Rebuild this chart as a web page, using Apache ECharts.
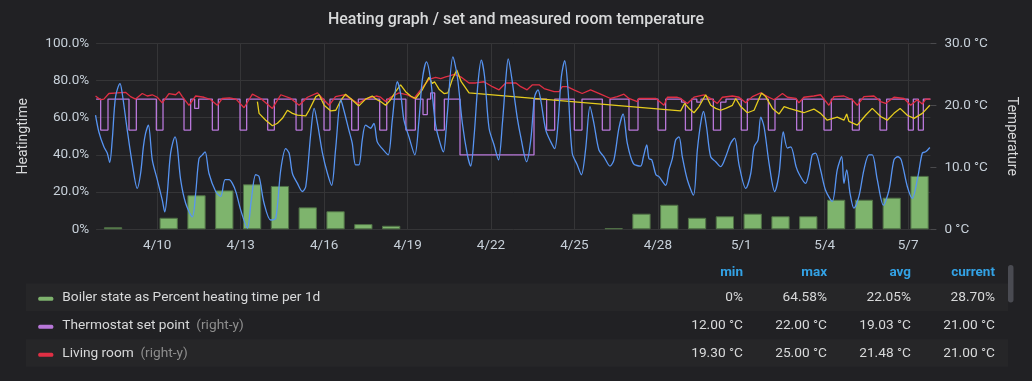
<!DOCTYPE html>
<html><head><meta charset="utf-8">
<script src="https://cdn.jsdelivr.net/npm/echarts@6/dist/echarts.min.js"></script>
<style>html,body{margin:0;padding:0;background:#212124;}#c{width:1032px;height:381px;}</style>
</head><body><div id="c"></div>
<script>
// x values are "day of April" (May 1 = 31)
const xMin = 7.8, xMax = 37.8;
const xTickDays = [10,13,16,19,22,25,28,31,34,37];
const xTickLabels = ['4/10','4/13','4/16','4/19','4/22','4/25','4/28','5/1','5/4','5/7'];

// Boiler: percent heating time per day
const boilerDays = [8,9,10,11,12,13,14,15,16,17,18,19,20,21,22,23,24,25,26,27,28,29,30,31,32,33,34,35,36,37];
const boilerPct  = [1.1,0,6.2,18.3,20.9,24.2,23.3,11.8,9.7,2.8,1.9,0,0,0,0,0,0,0,0.7,8.4,13.2,6.2,7.0,8.4,7.0,7.0,15.9,15.9,17.0,28.7];
const bucketCentre = 0.41; // bars drawn centred at ~10:00 of each day bucket

// Thermostat set point (°C), step series
const setPoint = [[7.8,21],[7.964,16],[8.228,21],[8.983,16],[9.247,21],[9.966,16],[10.206,21],[10.961,16],[11.2,21],[11.344,19.5],[11.488,21],[11.98,16],[12.195,21],[12.975,16],[13.214,21],[13.97,16],[14.21,21],[14.99,16],[15.204,21],[15.995,16],[16.21,21],[16.99,16],[17.23,21],[17.997,16],[18.25,21],[18.94,16],[19.28,21],[19.555,18.5],[19.71,21],[19.83,22],[19.975,16],[20.322,21],[20.885,12],[23.546,21],[24.0,16],[24.289,21],[24.997,16],[25.272,21],[26.003,16],[26.279,21],[26.962,16],[27.286,21],[28.005,16],[28.28,21],[28.85,20.5],[28.99,16],[29.215,21],[29.4,20.5],[29.55,21],[29.995,16],[30.258,20.5],[30.45,21],[31.0,16],[31.217,21],[31.972,16],[32.212,21],[32.99,16],[33.195,21],[33.974,16],[34.237,21],[34.993,16],[35.244,21],[35.987,16],[36.227,21],[37.006,16],[37.186,21],[37.366,16],[37.546,21],[37.8,21]];

// Living room (°C)
const livingRoom = [[7.78,21.5],[7.96,20.9],[8.08,21.0],[8.26,21.9],[8.56,22.0],[8.86,22.1],[9.04,21.4],[9.22,21.0],[9.46,21.9],[9.64,21.5],[9.82,21.7],[10.0,21.3],[10.18,20.4],[10.42,21.9],[10.66,21.7],[10.78,22.2],[10.9,21.4],[11.14,20.0],[11.38,21.5],[11.68,21.3],[11.92,20.9],[12.16,20.0],[12.34,21.1],[12.6,21.2],[12.83,21.0],[13.12,19.6],[13.42,21.8],[13.72,21.1],[14.14,19.5],[14.44,21.7],[14.8,21.1],[15.1,20.0],[15.4,21.3],[15.76,22.0],[15.94,21.1],[16.18,20.0],[16.41,21.4],[16.71,21.7],[16.95,21.1],[17.22,20.3],[17.49,21.0],[17.87,21.5],[18.03,21.3],[18.21,20.6],[18.39,21.3],[18.69,22.0],[18.99,21.7],[19.23,21.1],[19.47,22.5],[19.77,24.2],[20.01,24.5],[20.19,24.3],[20.37,24.6],[20.55,24.8],[20.67,25.0],[20.91,24.6],[21.21,23.6],[21.45,23.6],[21.75,23.8],[22.05,23.0],[22.29,22.5],[22.53,23.6],[22.9,23.6],[23.07,23.0],[23.3,22.5],[23.49,23.3],[23.73,23.3],[23.91,22.7],[24.27,22.2],[24.45,22.2],[24.56,23.0],[24.74,23.0],[24.98,22.5],[25.28,21.9],[25.58,22.5],[25.94,21.8],[26.3,21.1],[26.54,21.4],[26.78,21.8],[26.96,21.1],[27.26,20.6],[27.32,21.1],[27.93,21.1],[28.22,20.0],[28.34,21.3],[28.7,21.3],[28.82,21.1],[29.06,20.3],[29.3,21.3],[29.66,21.7],[29.9,21.1],[30.14,20.3],[30.32,21.3],[30.68,21.5],[30.92,21.3],[31.16,20.4],[31.4,21.4],[31.7,22.0],[31.94,21.4],[32.18,20.9],[32.48,21.9],[32.66,21.3],[32.97,21.1],[33.07,20.4],[33.25,21.3],[33.61,21.5],[33.85,21.7],[34.15,20.0],[34.33,21.4],[34.69,21.5],[34.99,20.9],[35.17,20.0],[35.41,21.4],[35.77,21.5],[36.01,20.6],[36.19,20.3],[36.49,21.3],[36.85,21.1],[37.09,20.0],[37.33,20.9],[37.51,20.2],[37.63,21.0],[37.8,21.0]];

// Second room (°C), yellow
const room2 = [[13.6,20.6],[13.66,18.7],[13.9,17.6],[14.14,16.7],[14.32,17.1],[14.5,17.9],[14.68,19.2],[14.86,18.7],[15.04,18.4],[15.34,18.3],[15.46,19.2],[15.7,21.4],[15.82,21.7],[16.0,20.0],[16.24,19.1],[16.42,19.2],[16.6,20.8],[16.77,21.8],[16.95,21.1],[17.25,19.9],[17.49,21.0],[17.73,21.5],[17.9,20.9],[18.03,20.6],[18.21,20.0],[18.39,20.9],[18.57,22.2],[18.75,23.3],[18.93,22.2],[19.11,21.5],[19.29,21.1],[19.53,22.5],[19.77,24.5],[19.89,23.5],[19.97,23.8],[20.13,22.6],[20.31,21.9],[20.45,22.0],[20.61,24.2],[20.77,25.7],[20.93,23.8],[21.21,22.0],[28.82,19.1],[28.96,20.3],[29.12,19.5],[29.3,18.8],[29.48,19.8],[29.72,21.7],[29.9,20.0],[30.08,19.5],[30.26,19.2],[30.44,19.5],[30.68,20.0],[30.8,21.1],[30.98,19.8],[31.22,18.8],[31.46,19.2],[31.64,21.1],[31.73,22.0],[31.88,21.4],[32.12,19.5],[32.36,18.6],[32.54,19.8],[32.72,19.5],[32.97,19.2],[33.25,18.8],[33.61,19.4],[33.85,18.7],[34.09,17.6],[34.45,18.1],[34.69,17.6],[34.79,18.6],[34.87,17.4],[35.17,16.8],[35.47,18.4],[35.71,19.5],[36.01,18.2],[36.25,17.6],[36.49,18.7],[36.71,19.5],[36.97,18.4],[37.21,17.9],[37.51,18.7],[37.78,20.0]];

// Outside (°C), blue
const outside = [[7.78,18.4],[7.9,15.7],[8.08,13.3],[8.2,12.3],[8.29,10.8],[8.38,14.4],[8.5,21.4],[8.66,23.5],[8.74,21.9],[8.92,16.0],[9.1,10.6],[9.28,6.6],[9.4,9.0],[9.5,13.3],[9.58,15.5],[9.68,16.8],[9.82,11.2],[10.0,8.0],[10.18,4.7],[10.27,2.8],[10.36,5.8],[10.48,12.3],[10.64,14.9],[10.72,13.3],[10.84,8.0],[11.02,4.2],[11.26,2.0],[11.38,5.8],[11.5,11.4],[11.62,12.0],[11.72,12.5],[11.86,9.0],[12.1,6.1],[12.28,5.3],[12.44,8.0],[12.58,8.0],[12.7,7.4],[12.83,6.0],[13.0,3.1],[13.24,0.2],[13.38,4.7],[13.54,8.8],[13.66,8.5],[13.84,4.2],[14.08,1.5],[14.26,1.8],[14.44,9.6],[14.62,13.0],[14.74,12.3],[14.86,9.0],[15.04,7.4],[15.22,6.1],[15.34,6.9],[15.52,15.5],[15.64,19.5],[15.76,17.1],[15.94,12.3],[16.12,9.0],[16.27,7.1],[16.41,12.8],[16.6,20.9],[16.71,19.2],[16.89,16.0],[17.01,13.9],[17.13,10.4],[17.25,10.4],[17.37,14.4],[17.49,16.8],[17.67,16.3],[17.79,17.1],[17.91,14.1],[18.09,13.0],[18.3,12.0],[18.45,17.6],[18.63,23.8],[18.75,21.9],[18.87,17.6],[19.05,14.9],[19.26,12.0],[19.41,17.6],[19.53,24.1],[19.68,27.0],[19.83,24.1],[20.01,16.8],[20.19,13.6],[20.29,12.5],[20.43,18.7],[20.63,27.8],[20.79,24.6],[20.97,17.1],[21.15,12.0],[21.27,10.2],[21.39,14.9],[21.53,23.5],[21.65,27.3],[21.77,24.6],[21.93,16.3],[22.11,13.6],[22.27,11.2],[22.41,17.1],[22.53,24.1],[22.62,27.5],[22.74,24.6],[22.85,21.0],[22.95,17.8],[23.07,14.9],[23.28,10.9],[23.43,14.4],[23.57,21.4],[23.69,22.5],[23.79,20.8],[23.97,16.0],[24.15,14.1],[24.29,13.0],[24.41,17.1],[24.53,24.6],[24.65,27.2],[24.77,22.5],[24.92,12.3],[25.1,10.4],[25.25,8.8],[25.4,12.8],[25.56,19.8],[25.7,17.1],[25.88,12.8],[26.06,11.7],[26.28,10.2],[26.42,11.2],[26.6,16.3],[26.75,18.6],[26.9,13.9],[27.12,10.6],[27.38,10.2],[27.48,11.7],[27.6,13.6],[27.68,11.4],[27.78,11.2],[27.93,8.8],[28.04,8.5],[28.28,7.1],[28.4,9.6],[28.52,11.4],[28.64,14.4],[28.76,14.9],[28.88,11.7],[29.06,8.0],[29.28,5.5],[29.42,12.8],[29.54,17.1],[29.64,19.0],[29.75,16.5],[29.9,11.7],[30.08,10.9],[30.26,10.1],[30.44,11.7],[30.62,13.9],[30.76,14.7],[30.92,10.4],[31.16,6.6],[31.34,9.0],[31.46,13.3],[31.6,14.4],[31.7,18.1],[31.82,16.5],[32.0,10.6],[32.2,6.1],[32.36,9.0],[32.51,15.7],[32.66,13.1],[32.78,13.3],[32.97,10.1],[33.07,9.0],[33.31,7.4],[33.43,9.0],[33.55,12.0],[33.67,12.3],[33.85,9.6],[34.03,6.3],[34.27,4.5],[34.45,9.6],[34.61,11.7],[34.69,7.4],[34.79,9.6],[34.91,5.8],[35.05,3.4],[35.23,5.3],[35.41,9.6],[35.59,12.0],[35.71,12.0],[35.89,8.0],[36.11,3.9],[36.31,6.3],[36.49,11.2],[36.63,11.7],[36.75,11.2],[36.97,6.9],[37.15,5.0],[37.35,8.5],[37.51,12.3],[37.63,12.5],[37.78,13.2]];

// Legend table
const legendNames   = ['Boiler state as Percent heating time per 1d','Thermostat set point','Living room'];
const legendSuffix  = ['','(right-y)','(right-y)'];
const legendColors  = ['#7eb26d','#b877d9','#e02f44'];
const statHeaders   = ['min','max','avg','current'];
const statValues    = [['0%','64.58%','22.05%','28.70%'],['12.00 °C','22.00 °C','19.03 °C','21.00 °C'],['19.30 °C','25.00 °C','21.48 °C','21.00 °C']];

const FONT = 'Roboto, "Noto Sans", sans-serif';
const chart = echarts.init(document.getElementById('c'), null, {renderer:'canvas'});

function dayLabel(d){ const i = xTickDays.indexOf(Math.round(d)); return i>=0 ? xTickLabels[i] : ''; }

const barData = boilerDays.map((d,i)=>[d+bucketCentre, boilerPct[i]]).filter(p=>p[1]>0);

const graphic = [];
const rowY = [297.3, 325.3, 353.3];
const statX = [743, 827, 911, 995];
graphic.push({type:'rect', shape:{x:26,y:283.5,width:982,height:27.5}, style:{fill:'#262628'}, silent:true});
graphic.push({type:'rect', shape:{x:26,y:339.3,width:982,height:27.5}, style:{fill:'#262628'}, silent:true});
statHeaders.forEach((h,j)=>graphic.push({type:'text', x:statX[j], y:272.6, style:{text:h, fill:'#33a2e5', font:'bold 13.5px '+FONT, align:'right', verticalAlign:'middle'}}));
legendNames.forEach((n,i)=>{
  graphic.push({type:'rect', shape:{x:38.3,y:rowY[i]-0.5,width:15,height:4,r:1.5}, style:{fill:legendColors[i]}});
  graphic.push({type:'text', x:62.3, y:rowY[i], style:{
    text: legendSuffix[i] ? '{n|'+n+'}  {s|'+legendSuffix[i]+'}' : '{n|'+n+'}',
    rich:{n:{fill:'#d8d9da', font:'13.7px '+FONT}, s:{fill:'#8e8e8e', font:'13.7px '+FONT}},
    verticalAlign:'middle'}});
  statValues[i].forEach((v,j)=>graphic.push({type:'text', x:statX[j], y:rowY[i], style:{text:v, fill:'#d8d9da', font:'13.7px '+FONT, align:'right', verticalAlign:'middle'}}));
});
graphic.push({type:'rect', shape:{x:1008,y:265,width:5.5,height:37.5,r:2.7}, style:{fill:'#4a4b52'}});

const axisLabelColor = '#c7d0d9';
const gridColor = '#353537';

chart.setOption({
  backgroundColor:'#212124',
  animation:false,
  textStyle:{fontFamily:FONT},
  title:{text:'Heating graph / set and measured room temperature', left:'center', top:7,
    textStyle:{color:'#d8d9da', fontSize:16, fontWeight:500, fontFamily:FONT}},
  grid:{left:96.1, right:101.6, top:43.3, bottom:151.7, containLabel:false},
  xAxis:{type:'value', min:xMin, max:xMax,
    axisLine:{show:false}, 
    axisTick:{show:false, customValues:xTickDays},
    axisLabel:{customValues:xTickDays, formatter:dayLabel, color:axisLabelColor, fontSize:13.5, margin:9},
    splitLine:{show:true, lineStyle:{color:gridColor, width:1}}},
  yAxis:[
    {type:'value', min:0, max:100, interval:20, position:'left',
      name:'Heatingtime', nameLocation:'middle', nameGap:66,
      nameTextStyle:{color:'#d8d9da', fontSize:14, fontFamily:FONT},
      axisLine:{show:false}, axisTick:{show:false},
      axisLabel:{color:axisLabelColor, fontSize:13.5, margin:7, formatter:v=> v===0 ? '0%' : v.toFixed(1)+'%'},
      splitLine:{show:true, lineStyle:{color:gridColor, width:1}}},
    {type:'value', min:0, max:30, interval:10, position:'right',
      name:'Temperature', nameLocation:'middle', nameGap:74, nameRotate:-90,
      nameTextStyle:{color:'#d8d9da', fontSize:14, fontFamily:FONT},
      axisLine:{show:false}, axisTick:{show:true, length:6, lineStyle:{color:'#4a4a4d'}},
      axisLabel:{color:axisLabelColor, fontSize:13.5, margin:14, formatter:v=> v===0 ? '0 °C' : v.toFixed(1)+' °C'},
      splitLine:{show:false}}
  ],
  graphic: graphic,
  series:[
    {name:legendNames[0], type:'bar', yAxisIndex:0, data:barData, barWidth:18.3,
      itemStyle:{color:'#7eb46d', borderColor:'#4f6f45', borderWidth:1}, z:2},
    {name:legendNames[1], type:'line', yAxisIndex:1, data:setPoint, step:'end', symbol:'none',
      lineStyle:{color:'#b877d9', width:1.3}, z:3},
    {name:legendNames[2], type:'line', yAxisIndex:1, data:livingRoom, symbol:'none',
      lineStyle:{color:'#e02f44', width:1.3}, z:4},
    {name:'Room 2', type:'line', yAxisIndex:1, data:room2, symbol:'none',
      lineStyle:{color:'#e5cc1e', width:1.3}, z:5},
    {name:'Outside', type:'line', yAxisIndex:1, data:outside, symbol:'none', smooth:0.3,
      lineStyle:{color:'#5794f2', width:1.3}, z:6}
  ]
});
</script></body></html>
